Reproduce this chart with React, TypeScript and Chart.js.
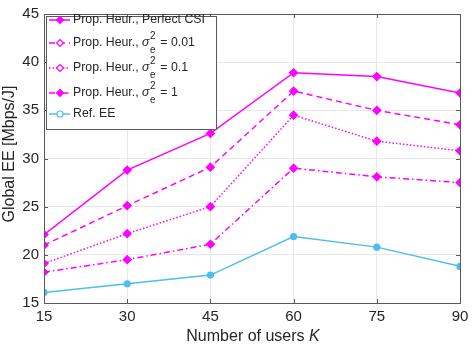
import React, { useEffect, useRef } from "react";
import { Chart, registerables } from "chart.js";

Chart.register(...registerables);

const users = [15, 30, 45, 60, 75, 90];
const perfectCSI = [22.1, 28.8, 32.6, 38.9, 38.5, 36.8];
const sigma001 = [21.0, 25.1, 29.1, 37.0, 35.0, 33.5];
const sigma01 = [19.1, 22.2, 25.0, 34.5, 31.8, 30.8];
const sigma1 = [18.2, 19.5, 21.1, 29.0, 28.1, 27.5];
const refEE = [16.1, 17.0, 17.9, 21.9, 20.8, 18.8];

const MAG = "#ff00ff";
const BLUE = "#4dbeee";
const FONT = "'Liberation Sans', Arial, sans-serif";
const LFS = 12.3;

type Entry = { label: string; sigma?: string; color: string; dash: number[]; marker: "diamond" | "circle"; fill: boolean };
const legendEntries: Entry[] = [
  { label: "Prop. Heur., Perfect CSI", color: MAG, dash: [], marker: "diamond", fill: true },
  { label: "Prop. Heur., ", sigma: "0.01", color: MAG, dash: [6, 4], marker: "diamond", fill: false },
  { label: "Prop. Heur., ", sigma: "0.1", color: MAG, dash: [1.5, 2], marker: "diamond", fill: false },
  { label: "Prop. Heur., ", sigma: "1", color: MAG, dash: [6, 3, 1.5, 3], marker: "diamond", fill: true },
  { label: "Ref. EE", color: BLUE, dash: [], marker: "circle", fill: false },
];

const boxPlugin = {
  id: "boxLegend",
  afterDraw(chart: any) {
    const ctx = chart.ctx as CanvasRenderingContext2D;
    const a = chart.chartArea;
    ctx.save();
    ctx.strokeStyle = "#5a5a5a";
    ctx.lineWidth = 1;
    ctx.strokeRect(a.left + 0.5, a.top + 0.5, a.right - a.left, a.bottom - a.top);
    const xs = chart.scales.x;
    const ys = chart.scales.y;
    ctx.beginPath();
    for (const v of users) {
      const px = Math.round(xs.getPixelForValue(v)) + 0.5;
      ctx.moveTo(px, a.bottom); ctx.lineTo(px, a.bottom - 4);
      ctx.moveTo(px, a.top); ctx.lineTo(px, a.top + 4);
    }
    for (let v = 15; v <= 45; v += 5) {
      const py = Math.round(ys.getPixelForValue(v)) + 0.5;
      ctx.moveTo(a.left, py); ctx.lineTo(a.left + 4, py);
      ctx.moveTo(a.right, py); ctx.lineTo(a.right - 4, py);
    }
    ctx.stroke();

    // legend
    const lx = a.left + 2, ly = a.top + 2, lw = 170, lh = 113;
    ctx.fillStyle = "#ffffff";
    ctx.fillRect(lx, ly, lw, lh);
    ctx.strokeStyle = "#5a5a5a";
    ctx.strokeRect(lx + 0.5, ly + 0.5, lw, lh);
    const rows = [20, 43, 68, 93, 114];
    legendEntries.forEach((e, i) => {
      const cy = rows[i];
      ctx.strokeStyle = e.color;
      ctx.lineWidth = 1.5;
      ctx.setLineDash(e.dash);
      ctx.beginPath();
      ctx.moveTo(lx + 3, cy); ctx.lineTo(lx + 24, cy);
      ctx.stroke();
      ctx.setLineDash([]);
      const mx = lx + 14;
      ctx.beginPath();
      if (e.marker === "diamond") {
        const r = 3.5;
        ctx.moveTo(mx, cy - r); ctx.lineTo(mx + r, cy); ctx.lineTo(mx, cy + r); ctx.lineTo(mx - r, cy); ctx.closePath();
      } else {
        ctx.arc(mx, cy, 3, 0, Math.PI * 2);
      }
      ctx.fillStyle = e.fill ? e.color : "#ffffff";
      ctx.fill();
      ctx.lineWidth = 1.2;
      ctx.stroke();
      ctx.fillStyle = "#262626";
      ctx.textBaseline = "middle";
      ctx.textAlign = "left";
      ctx.font = `${LFS}px ${FONT}`;
      let tx = lx + 27;
      ctx.fillText(e.label, tx, cy);
      if (e.sigma) {
        tx += ctx.measureText(e.label).width;
        ctx.font = `italic ${LFS}px ${FONT}`;
        ctx.fillText("\u03c3", tx, cy);
        tx += ctx.measureText("\u03c3").width + 0.5;
        ctx.font = `10px ${FONT}`;
        ctx.fillText("2", tx, cy - 7);
        ctx.fillText("e", tx, cy + 7);
        tx += 7;
        ctx.font = `${LFS}px ${FONT}`;
        ctx.fillText(" = " + e.sigma, tx, cy);
      }
    });
    ctx.restore();
  },
};

const titlePlugin = {
  id: "titles",
  afterDraw(chart: any) {
    const ctx = chart.ctx as CanvasRenderingContext2D;
    const a = chart.chartArea;
    ctx.save();
    ctx.fillStyle = "#262626";
    ctx.textBaseline = "middle";
    ctx.textAlign = "left";
    const t1 = "Number of users ";
    ctx.font = `16px ${FONT}`;
    const w1 = ctx.measureText(t1).width;
    ctx.font = `italic 16px ${FONT}`;
    const w2 = ctx.measureText("K").width;
    const cx = (a.left + a.right) / 2 + 1;
    const x = cx - (w1 + w2) / 2;
    ctx.font = `16px ${FONT}`;
    ctx.fillText(t1, x, 337);
    ctx.font = `italic 16px ${FONT}`;
    ctx.fillText("K", x + w1, 337);
    // y title
    ctx.translate(10, 154);
    ctx.rotate(-Math.PI / 2);
    ctx.textAlign = "center";
    ctx.font = `16px ${FONT}`;
    ctx.fillText("Global EE [Mbps/J]", 0, 0);
    ctx.restore();
  },
};

export default function App() {
  const ref = useRef<HTMLCanvasElement>(null);
  useEffect(() => {
    const ds = (label: string, data: number[], color: string, dash: number[], style: string, fill: boolean) => ({
      label,
      data: users.map((u, i) => ({ x: u, y: data[i] })),
      borderColor: color,
      backgroundColor: fill ? color : "#ffffff",
      borderWidth: 1.5,
      borderDash: dash,
      pointStyle: style,
      pointRadius: style === "circle" ? 3 : 4,
      pointBorderWidth: 1.2,
      pointBackgroundColor: color,
      tension: 0,
    });
    const chart = new Chart(ref.current!, {
      type: "line",
      data: {
        datasets: [
          ds("Ref. EE", refEE, BLUE, [], "circle", false),
          ds("s1", sigma1, MAG, [6, 3, 1.5, 3], "rectRot", true),
          ds("s01", sigma01, MAG, [1.5, 2], "rectRot", true),
          ds("s001", sigma001, MAG, [6, 4], "rectRot", true),
          ds("Perfect", perfectCSI, MAG, [], "rectRot", true),
        ],
      },
      options: {
        animation: false,
        responsive: false,
        layout: { padding: { top: 7, right: 14, left: 0, bottom: 0 } },
        plugins: { legend: { display: false }, tooltip: { enabled: false } },
        scales: {
          x: {
            type: "linear",
            min: 15,
            max: 90,
            afterFit: (s: any) => { s.height = 51; },
            afterBuildTicks: (s: any) => { s.ticks = users.map((v) => ({ value: v })); },
            grid: { color: "#e8e8e8", drawTicks: false },
            border: { display: false },
            ticks: { color: "#262626", font: { family: FONT, size: 15 }, padding: 5, maxRotation: 0 },
          },
          y: {
            min: 15,
            max: 45,
            afterFit: (s: any) => { s.width = 44; },
            grid: { color: "#e8e8e8", drawTicks: false },
            border: { display: false },
            ticks: { stepSize: 5, color: "#262626", font: { family: FONT, size: 15 }, padding: 5 },
          },
        },
      },
      plugins: [boxPlugin, titlePlugin],
    } as any);
    return () => chart.destroy();
  }, []);
  return (
    <div style={{ position: "fixed", left: 0, top: 0, width: 474, height: 354, background: "#fff" }}>
      <canvas ref={ref} width={474} height={354} />
    </div>
  );
}
